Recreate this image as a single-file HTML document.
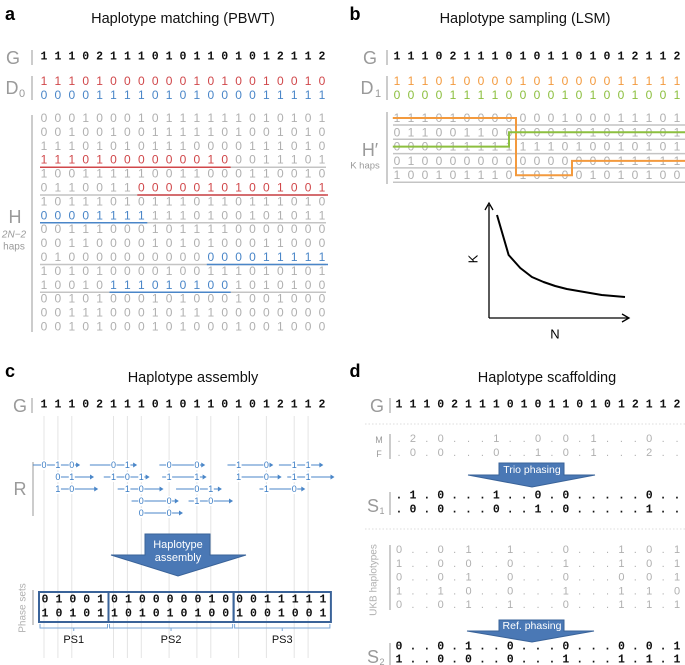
<!DOCTYPE html>
<html><head><meta charset="utf-8"><style>
html,body{margin:0;padding:0;background:#fff}
svg{display:block}
text{font-family:"Liberation Sans",sans-serif}
.mono{font-family:"Liberation Mono",monospace;font-weight:bold}
</style></head><body>
<svg id="fig" width="685" height="665" viewBox="0 0 685 665" xmlns="http://www.w3.org/2000/svg"></svg>
<script>
// ---------- data ----------
const G = "111021110101101012112";
const D0a = "111010000001010010010";
const D0b = "000011110101000011111";
const H = [
"000100010111111010101","001001001111101001010","111010101110000111010",
"111010000000100011101","100111110011000110010","011001100000101001001",
"101110101110110111010","000011111110100101011","001110001011110000000",
"001100001010100011000","010000000000000011111","101010000100111010101",
"100101110101001010100","001010001010001001000","001110001011100000000",
"001010001010001001000"];
// highlighted segments: [row, fromCol, toCol, color]
const HL = [[3,0,13,"#d0474a"],[5,7,20,"#d0474a"],[7,0,7,"#4a86c8"],[10,12,20,"#4a86c8"],[12,5,13,"#4a86c8"]];
const ULrows = [3,5,7,10,12];
const D1a = "111010000101000011111";
const D1b = "000011110000101001001";
const HP = ["111010000000100011101","011001100000101001001","000011111111010010101","010000000000000011111","100101110101001010100"];
// LSM paths: [col boundary, row] steps
const orangePath = [[-0.3,0],[8.5,0],[8.5,4],[12.5,4],[12.5,3],[21,3]];
const greenPath = [[-0.3,2],[8.0,2],[8.0,1],[21,1]];
// reads: [row, startCol, endCol, [[col,val],...]]
const reads = [
[0,-0.8,2.6,[[0,0],[1,1],[2,0]]],[0,3.3,6.7,[[5,0],[6,1]]],[0,8.3,11.6,[[9,0],[11,0]]],[0,13.2,16.5,[[14,1],[16,0]]],[0,16.9,20.1,[[18,1],[19,1]]],
[1,0.8,3.6,[[1,0],[2,1]]],[1,4.3,7.6,[[5,1],[6,0],[7,1]]],[1,8.5,11.7,[[9,1],[11,1]]],[1,13.8,17.1,[[14,1],[16,0]]],[1,17.5,20.9,[[18,1],[19,1]]],
[2,1.2,3.9,[[1,1],[2,0]]],[2,5.3,8.6,[[6,1],[7,0]]],[2,9.5,12.8,[[11,0],[12,1]]],[2,15.5,18.8,[[16,1],[18,0]]],
[3,6.3,9.7,[[7,0],[9,0]]],[3,10.4,13.6,[[11,1],[12,0]]],
[4,6.8,10.0,[[7,0],[9,0]]]];
const PSa = ["01001","010000010","0011111"];
const PSb = ["10101","101010100","1001001"];
const PSlabels = ["PS1","PS2","PS3"];
const Mrow = ".2.0...1..0.0.1...0..";
const Frow = ".0.0...0..1.0.1...2..";
const S1a = ".1.0...1..0.0.....0..";
const S1b = ".0.0...0..1.0.....1..";
const UKB = ["0..0.1..1...0...1.0.1","1..0.0..0...1...1.0.1","0..0.1..0...0...0.0.1","1..1.0..0...1...1.1.0","0..0.1..1...0...1.1.1"];
const S2a = "0..0.1..0...0...0.0.1";
const S2b = "1..0.0..0...1...1.1.1";
const curveK = [0.96,0.56,0.43,0.34,0.29,0.25,0.22,0.2,0.18,0.16,0.15,0.14];

// ---------- helpers ----------
const svg = document.getElementById('fig');
const NS = "http://www.w3.org/2000/svg";
function mk(tag, attrs, parent){const e=document.createElementNS(NS,tag);for(const k in attrs)e.setAttribute(k,attrs[k]);(parent||svg).appendChild(e);return e;}
function txt(x,y,s,size,fill,name,extra){const e=mk('text',Object.assign({x:x,y:y,'font-size':size,fill:fill,'text-anchor':'middle','dominant-baseline':'central'},extra||{}));e.textContent=s;


return e;}
function line(x1,y1,x2,y2,stroke,w,name){const e=mk('line',{x1:x1,y1:y1,x2:x2,y2:y2,stroke:stroke,'stroke-width':w});


return e;}
function rowText(str,x0,dx,y,size,color,cls,name){for(let i=0;i<str.length;i++){const t=txt(x0+i*dx,y,str[i],size,color,name,cls?{'class':cls}:{});}}
const GRAY="#9a9a9a", LG="#b0b0b0";

// ---------- panel a ----------
const ax=c=>44+c*13.9;
txt(10,14,"a",18,"#000","panel-label-a",{'font-weight':'bold'});
txt(183,19,"Haplotype matching (PBWT)",14.5,"#111","title-a");
txt(13,58,"G",18,GRAY,"label-g-a");line(32,50,32,65,GRAY,1,"bar-g-a");
rowText(G,44,13.9,57,11.5,"#111","mono","genotype-a");
txt(12,88,"D",18,GRAY,"label-d0");txt(22,94,"0",11,GRAY,"label-d0-sub");line(32,76,32,100,GRAY,1,"bar-d0");
rowText(D0a,44,13.9,81,12,"#d0474a","","d0-hap-red");
rowText(D0b,44,13.9,95,12,"#4a86c8","","d0-hap-blue");
line(32,115,32,332,GRAY,1,"bar-h");
txt(15,217,"H",18,GRAY,"label-h");txt(14,235,"2N−2",10,GRAY,"label-2n2",{'font-style':'italic'});txt(14,247,"haps",10,GRAY,"label-haps");
H.forEach((r,ri)=>{const y=118+ri*13.9;for(let c=0;c<21;c++){let col=LG;HL.forEach(h=>{if(h[0]==ri&&c>=h[1]&&c<=h[2]){col=h[3];}});
const t=txt(ax(c),y,r[c],12,col,"h-cell");}});
ULrows.forEach(ri=>{const y=118+ri*13.9+7.5;line(40,y,326,y,"#c4c4c4",1.5,"h-underline");HL.filter(h=>h[0]==ri).forEach(h=>line(ax(h[1])-4,y,ax(h[2])+6,y,h[3],1.5,"match-underline"));});

// ---------- panel b ----------
const bx=c=>397+c*14;
txt(355,14,"b",18,"#000","panel-label-b",{'font-weight':'bold'});
txt(525,19,"Haplotype sampling (LSM)",14.5,"#111","title-b");
txt(370,58,"G",18,GRAY,"label-g-b");line(387,50,387,65,GRAY,1,"bar-g-b");
rowText(G,397,14,57,11.5,"#111","mono","genotype-b");
txt(367,88,"D",18,GRAY,"label-d1");txt(378,94,"1",11,GRAY,"label-d1-sub");line(387,76,387,100,GRAY,1,"bar-d1");
rowText(D1a,397,14,81,12,"#f39a3e","","d1-hap-orange");
rowText(D1b,397,14,95,12,"#8cbf3f","","d1-hap-green");
line(387,112,387,184,GRAY,1,"bar-hprime");
txt(370,150,"H′",18,GRAY,"label-hprime");txt(365,166,"K haps",9.5,GRAY,"label-k-haps");
HP.forEach((r,ri)=>{const y=118+ri*14.3;rowText(r,397,14,y,12,LG,"","hprime-cell");line(393,y+7,685,y+7,"#c4c4c4",1.5,"hprime-underline");});
function pathD(p){return p.map((q,i)=>(i?"L":"M")+(397+q[0]*14)+" "+(118+q[1]*14.3)).join(" ");}
let pe=mk('path',{d:pathD(orangePath),fill:'none',stroke:'#f39a3e','stroke-width':2});


pe=mk('path',{d:pathD(greenPath),fill:'none',stroke:'#8cbf3f','stroke-width':2});


// K vs N plot
line(489,205,489,318,"#000",1.3,"y-axis-k");line(489,318,628,318,"#000",1.3,"x-axis-n");
let ar=mk('path',{d:"M485 210 L489 203 L493 210",fill:'none',stroke:'#000','stroke-width':1.3});


ar=mk('path',{d:"M622 314 L629 318 L622 322",fill:'none',stroke:'#000','stroke-width':1.3});


const kx=i=>497+i*(128/(curveK.length-1)), ky=v=>311-v*100;
let cd=mk('path',{d:curveK.map((v,i)=>(i?"L":"M")+kx(i)+" "+ky(v)).join(" "),fill:'none',stroke:'#000','stroke-width':2,'stroke-linejoin':'round'});


txt(473,259,"K",13,"#000","y-axis-title",{transform:"rotate(-90 473 259)"});
txt(555,334,"N",13,"#000","x-axis-title");

// ---------- panel c ----------
const cx=c=>44+c*13.9;
txt(10,371,"c",18,"#000","panel-label-c",{'font-weight':'bold'});
txt(193,378,"Haplotype assembly",14.5,"#111","title-c");
for(let c=0;c<21;c++){if(G[c]==="1")line(cx(c),416,cx(c),658,"#e4e4e4",1,"het-gridline");}
txt(20,406,"G",18,GRAY,"label-g-c");line(32,398,32,413,GRAY,1,"bar-g-c");
rowText(G,44,13.9,405,11.5,"#111","mono","genotype-c");
line(33,462,33,516,GRAY,1,"bar-r");txt(20,489,"R",18,GRAY,"label-r");
reads.forEach(r=>{const y=465+r[0]*12;const x1=cx(r[1]),x2=cx(r[2]);
const l=line(x1,y,x2-3,y,"#4a86c8",1,"read");
let h=mk('path',{d:`M${x2-4} ${y-2.5} L${x2} ${y} L${x2-4} ${y+2.5}Z`,fill:'#4a86c8'});


r[3].forEach(n=>{mk('rect',{x:cx(n[0])-3,y:y-5,width:6,height:10,fill:'#fff'});txt(cx(n[0]),y,String(n[1]),9,"#3a7cc4","read-allele");});});
let bigArrow=mk('path',{d:"M145 534 H210 V555 H246 L178 576 L111 555 H145 Z",fill:'#4a78b5',stroke:'#3a6399','stroke-width':1});


txt(178,545,"Haplotype",11,"#fff","assembly-arrow-text1");txt(178,558,"assembly",11,"#fff","assembly-arrow-text2");
txt(23,608,"Phase sets",10,LG,"label-phase-sets",{transform:"rotate(-90 23 608)"});line(33,590,33,625,GRAY,1,"bar-phase-sets");
let bx0=39;
PSa.forEach((s,i)=>{const w=s.length*13.9;const r=mk('rect',{x:bx0,y:592,width:w,height:30,fill:'none',stroke:'#3a6399','stroke-width':2});


rowText(s,bx0+6,13.9,600,11.5,"#111","mono","phase-set-hap1");rowText(PSb[i],bx0+6,13.9,614,11.5,"#111","mono","phase-set-hap2");
const bc=mk('path',{d:`M${bx0+1} 624 V628 H${bx0+w-1} V624 M${bx0+w/2} 628 V631`,fill:'none',stroke:'#7aa6d6','stroke-width':1});


txt(bx0+w/2,640,PSlabels[i],11,"#111","phase-set-label");bx0+=w;});

// ---------- panel d ----------
const dxp=399, ddx=13.9;
txt(355,371,"d",18,"#000","panel-label-d",{'font-weight':'bold'});
txt(547,378,"Haplotype scaffolding",14.5,"#111","title-d");
txt(377,406,"G",18,GRAY,"label-g-d");line(390,398,390,413,GRAY,1,"bar-g-d");
rowText(G,dxp,ddx,405,11.5,"#111","mono","genotype-d");
let dl=line(365,424,685,424,"#ddd",1,"separator-1");dl.setAttribute('stroke-dasharray','1.5 2');
txt(379,440,"M",9,GRAY,"label-m");txt(379,454,"F",9,GRAY,"label-f");line(390,434,390,459,GRAY,1,"bar-mf");
rowText(Mrow,dxp,ddx,439,11,LG,"","mother-genotype");rowText(Frow,dxp,ddx,453,11,LG,"","father-genotype");
let tri=mk('path',{d:"M499 463 H564 V475 H595 L532 487 L468 475 H499 Z",fill:'#4a78b5',stroke:'#3a6399','stroke-width':1});


txt(532,470,"Trio phasing",10.5,"#fff","trio-phasing-text");
txt(373,506,"S",18,GRAY,"label-s1");txt(382,511,"1",9,GRAY,"label-s1-sub");line(390,492,390,515,GRAY,1,"bar-s1");
rowText(S1a,dxp,ddx,496,11.5,"#111","mono","s1-hap1");rowText(S1b,dxp,ddx,510,11.5,"#111","mono","s1-hap2");
dl=line(365,529,685,529,"#ddd",1,"separator-2");dl.setAttribute('stroke-dasharray','1.5 2');
txt(374,580,"UKB haplotypes",10,LG,"label-ukb",{transform:"rotate(-90 374 580)"});line(390,545,390,610,GRAY,1,"bar-ukb");
UKB.forEach((r,i)=>rowText(r,dxp,ddx,550+i*13.8,11,LG,"","ukb-haplotype"));
tri=mk('path',{d:"M499 620 H564 V631 H594 L532 642 L467 631 H499 Z",fill:'#4a78b5',stroke:'#3a6399','stroke-width':1});


txt(532,626,"Ref. phasing",10.5,"#fff","ref-phasing-text");
txt(373,657,"S",18,GRAY,"label-s2");txt(382,662,"2",9,GRAY,"label-s2-sub");line(390,643,390,665,GRAY,1,"bar-s2");
rowText(S2a,dxp,ddx,647,11.5,"#111","mono","s2-hap1");rowText(S2b,dxp,ddx,660,11.5,"#111","mono","s2-hap2");
</script>
</body></html>
